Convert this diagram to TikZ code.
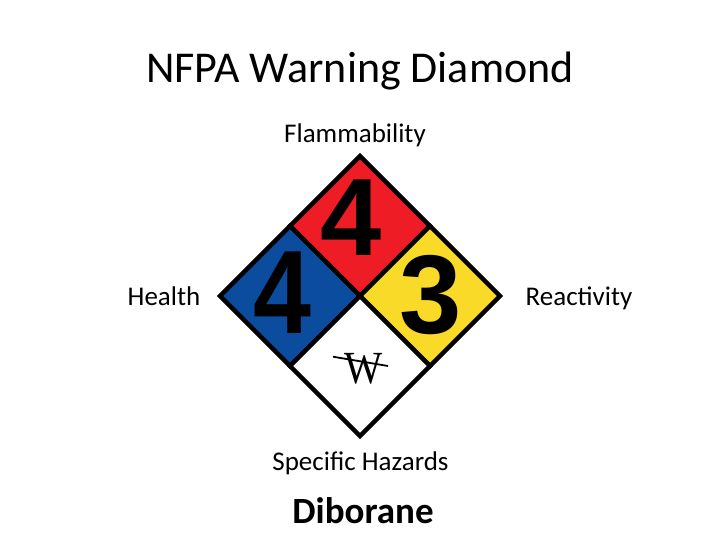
\documentclass[tikz,border=0pt]{standalone}
\usepackage{fontspec}
\setmainfont{Carlito}
\newfontfamily\digitfont{Liberation Sans}
\newfontfamily\wfont{Liberation Serif}
\definecolor{healthblue}{RGB}{12,76,158}
\definecolor{flamred}{RGB}{238,28,36}
\definecolor{reactyellow}{RGB}{250,218,40}
\tikzset{
	quad/.style={
		draw=black,
		line width=4.5pt,
		line join=miter},
	caption/.style={
		font=\fontsize{27}{30}\selectfont,
		inner sep=0pt,
		anchor=base},
	digit/.style={
		font=\digitfont\bfseries\fontsize{112}{112}\selectfont,
		inner sep=0pt},
}

\begin{document}
\begin{tikzpicture}
			[x=1pt, y=-1pt]
			\useasboundingbox (0,0) rectangle (720,540);
			% corners of the diamond
			\coordinate (top) at (360,156);
			\coordinate (left) at (220,296);
			\coordinate (right) at (500,296);
			\coordinate (bottom) at (360,436);
			\coordinate (mid) at (360,296);
			\coordinate (tl) at (290,226);
			\coordinate (tr) at (430,226);
			\coordinate (bl) at (290,366);
			\coordinate (br) at (430,366);
			% the four squares
			\filldraw[quad, fill=flamred] (top) -- (tr) -- (mid) -- (tl) -- cycle;
			\filldraw[quad, fill=healthblue] (tl) -- (mid) -- (bl) -- (left) -- cycle;
			\filldraw[quad, fill=reactyellow] (tr) -- (right) -- (br) -- (mid) -- cycle;
			\filldraw[quad, fill=white] (mid) -- (br) -- (bottom) -- (bl) -- cycle;
			% ratings
			\node[digit, font=\digitfont\bfseries\fontsize{110}{110}\selectfont] (flam) at (351,217.5) {4};
			\node[digit] (health) at (282,292.5) {\scalebox{0.93}[1.06]{4}};
			\node[digit] (react) at (430.5,295) {3};
			\node[inner sep=0pt, font=\wfont\fontsize{46}{46}\selectfont] (water) at (364,369) {\scalebox{0.88}[1]{W}};
			\draw[line width=1.8pt] (333,356.7) -- (388,366);
			% labels
			\node[caption, font=\fontsize{44}{47}\selectfont] (title) at (360,82.7) {NFPA Warning Diamond};
			\node[caption] (flamtext) at (355,143) {Flammability};
			\node[caption] (healthtext) at (164,305) {Health};
			\node[caption] (reacttext) at (579,305) {Reactivity};
			\node[caption] (spectext) at (360.5,470.7) {Specific Hazards};
			\node[caption, font=\bfseries\fontsize{37}{40}\selectfont] (name) at (363,523.3) {Diborane};
		\end{tikzpicture}
\end{document}
